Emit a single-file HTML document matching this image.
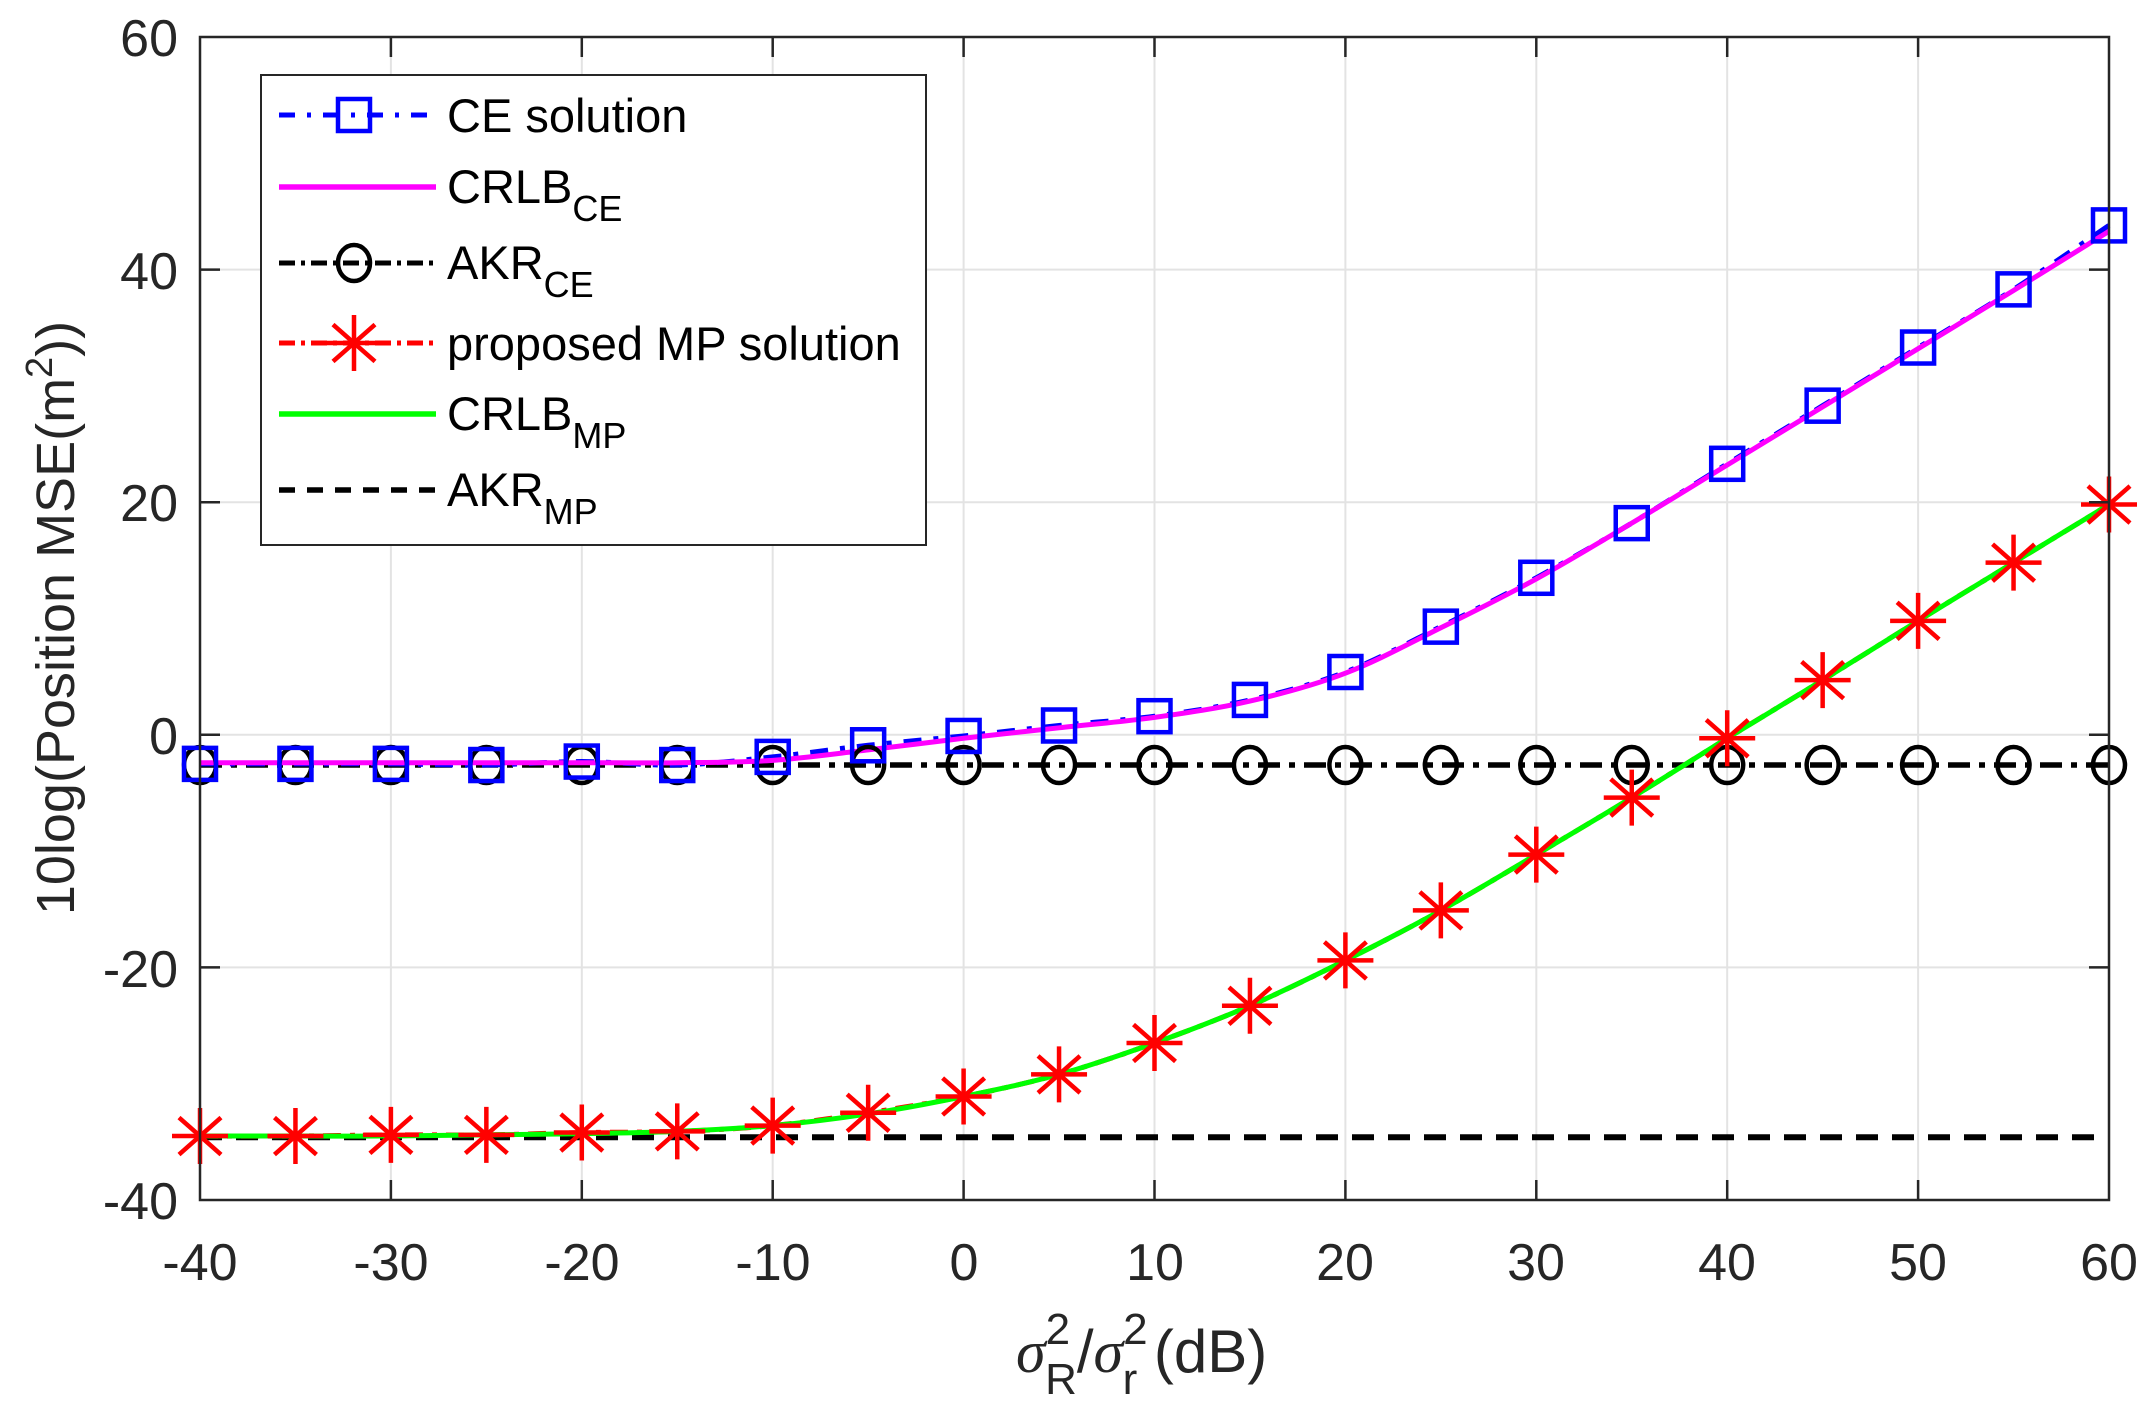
<!DOCTYPE html>
<html><head><meta charset="utf-8"><style>
html,body{margin:0;padding:0;background:#fff;}
svg text{font-family:"Liberation Sans",Arial,sans-serif;fill:#262626;}
</style></head><body>
<svg id="s" width="2152" height="1416" viewBox="0 0 2152 1416" xmlns="http://www.w3.org/2000/svg">
<rect width="2152" height="1416" fill="#fff"/>
<g id="grid" stroke="#e3e3e3" stroke-width="2"></g>
<g id="data"></g>
<rect x="200" y="37" width="1909" height="1163" fill="none" stroke="#262626" stroke-width="2.5"/>
<g id="ticks" stroke="#262626" stroke-width="2.5"></g>
<g font-size="52" text-anchor="end">
<text x="178" y="56">60</text><text x="178" y="289">40</text><text x="178" y="521">20</text>
<text x="178" y="754">0</text><text x="178" y="987">-20</text><text x="178" y="1219">-40</text>
</g>
<g font-size="52" text-anchor="middle">
<text x="200" y="1280">-40</text><text x="391" y="1280">-30</text><text x="582" y="1280">-20</text>
<text x="773" y="1280">-10</text><text x="964" y="1280">0</text><text x="1155" y="1280">10</text>
<text x="1345" y="1280">20</text><text x="1536" y="1280">30</text><text x="1727" y="1280">40</text>
<text x="1918" y="1280">50</text><text x="2109" y="1280">60</text>
</g>
<text transform="translate(74,618) rotate(-90)" font-size="54" text-anchor="middle">10log(Position MSE(m<tspan font-size="38" dy="-22">2</tspan><tspan dy="22">))</tspan></text>
<text x="1016" y="1372" font-size="60"><tspan font-family="Liberation Serif" font-style="italic">σ</tspan><tspan font-size="44" dy="-28">2</tspan><tspan font-size="44" dx="-25" dy="50">R</tspan><tspan dy="-22">/</tspan><tspan font-family="Liberation Serif" font-style="italic">σ</tspan><tspan font-size="44" dy="-28">2</tspan><tspan font-size="44" dx="-25" dy="50">r</tspan><tspan dy="-22"> (dB)</tspan></text>
<rect x="261" y="75" width="665" height="470" fill="#fff" stroke="#262626" stroke-width="2"/>
<g id="leg"></g>
<g font-size="47">
<text x="447" y="132" style="fill:#000">CE solution</text>
<text x="447" y="203" style="fill:#000">CRLB<tspan font-size="36" dy="18">CE</tspan></text>
<text x="447" y="279" style="fill:#000">AKR<tspan font-size="36" dy="18">CE</tspan></text>
<text x="447" y="360" style="fill:#000">proposed MP solution</text>
<text x="447" y="430" style="fill:#000">CRLB<tspan font-size="36" dy="18">MP</tspan></text>
<text x="447" y="506" style="fill:#000">AKR<tspan font-size="36" dy="18">MP</tspan></text>
</g>
</svg>
<script>
var NS="http://www.w3.org/2000/svg";
function X(v){return 200+(v+40)*19.09;}
function Y(v){return 37+(60-v)*11.63;}
function el(p,t,a){var e=document.createElementNS(NS,t);for(var k in a)e.setAttribute(k,a[k]);p.appendChild(e);return e;}
var G=document.getElementById('grid'),T=document.getElementById('ticks'),D=document.getElementById('data'),L=document.getElementById('leg');
for(var v=-30;v<60;v+=10){el(G,'line',{x1:X(v),x2:X(v),y1:37,y2:1200});el(T,'line',{x1:X(v),x2:X(v),y1:1200,y2:1180});el(T,'line',{x1:X(v),x2:X(v),y1:37,y2:57});}
for(var v=-20;v<60;v+=20){el(G,'line',{x1:200,x2:2109,y1:Y(v),y2:Y(v)});el(T,'line',{x1:200,x2:220,y1:Y(v),y2:Y(v)});el(T,'line',{x1:2089,x2:2109,y1:Y(v),y2:Y(v)});}
var xs=[];for(var v=-40;v<=60;v+=5)xs.push(v);
var ce=[-2.5,-2.5,-2.5,-2.6,-2.3,-2.6,-1.9,-0.9,-0.1,0.8,1.6,3,5.4,9.3,13.5,18.2,23.3,28.3,33.3,38.3,43.8];
var crce=[-2.4,-2.4,-2.4,-2.4,-2.4,-2.4,-2.2,-1.3,-0.3,0.6,1.5,2.9,5.3,9.2,13.4,18.2,23.2,28.2,33.2,38.2,43.3];
var mp=[-34.5,-34.5,-34.4,-34.4,-34.2,-34.1,-33.6,-32.5,-31.1,-29.2,-26.5,-23.3,-19.4,-15.1,-10.3,-5.4,-0.3,4.7,9.8,14.8,19.8];
var crmp=[-34.5,-34.5,-34.5,-34.4,-34.3,-34.1,-33.6,-32.6,-31.1,-29.2,-26.5,-23.3,-19.4,-15.1,-10.3,-5.4,-0.3,4.7,9.8,14.8,19.8];
function smooth(ys){var p=xs.map(function(x,i){return [X(x),Y(ys[i])];});var d='M'+p[0][0]+','+p[0][1];
for(var i=0;i<p.length-1;i++){var p0=p[i-1]||p[i],p1=p[i],p2=p[i+1],p3=p[i+2]||p2;
d+=' C'+(p1[0]+(p2[0]-p0[0])/6)+','+(p1[1]+(p2[1]-p0[1])/6)+' '+(p2[0]-(p3[0]-p1[0])/6)+','+(p2[1]-(p3[1]-p1[1])/6)+' '+p2[0]+','+p2[1];}return d;}
function sq(p,x,y,c){el(p,'rect',{x:x-16,y:y-16,width:32,height:32,fill:'none',stroke:c,'stroke-width':4.5});}
function ci(p,x,y){el(p,'ellipse',{cx:x,cy:y,rx:16,ry:18,fill:'none',stroke:'#000','stroke-width':4.5});}
function st(p,x,y){var r=28;var g=el(p,'g',{stroke:'#f00','stroke-width':4.5});
el(g,'line',{x1:x-r,x2:x+r,y1:y,y2:y});el(g,'line',{x1:x,x2:x,y1:y-r,y2:y+r});
var a=r*0.75,b=r*0.66;el(g,'line',{x1:x-a,x2:x+a,y1:y-b,y2:y+b});el(g,'line',{x1:x-a,x2:x+a,y1:y+b,y2:y-b});}
el(D,'line',{x1:200,x2:2109,y1:Y(-34.6),y2:Y(-34.6),stroke:'#000','stroke-width':6,'stroke-dasharray':'22 14'});
el(D,'line',{x1:200,x2:2109,y1:Y(-2.6),y2:Y(-2.6),stroke:'#000','stroke-width':5.5,'stroke-dasharray':'22 9 6 9'});
el(D,'path',{d:smooth(mp),fill:'none',stroke:'#f00','stroke-width':5,'stroke-dasharray':'18 9 5 9'});
el(D,'path',{d:smooth(crmp),fill:'none',stroke:'#0f0','stroke-width':5});
el(D,'path',{d:smooth(ce),fill:'none',stroke:'#00f','stroke-width':5,'stroke-dasharray':'18 12 5 12'});
el(D,'path',{d:smooth(crce),fill:'none',stroke:'#f0f','stroke-width':5});
xs.forEach(function(x,i){ci(D,X(x),Y(-2.6));sq(D,X(x),Y(ce[i]),'#00f');st(D,X(x),Y(mp[i]));});
var lx1=279,lx2=436,mx=354;
el(L,'line',{x1:lx1,x2:lx2,y1:115,y2:115,stroke:'#00f','stroke-width':5,'stroke-dasharray':'16 12 4 12'});sq(L,mx,115,'#00f');
el(L,'line',{x1:lx1,x2:lx2,y1:187,y2:187,stroke:'#f0f','stroke-width':5.5});
el(L,'line',{x1:lx1,x2:lx2,y1:263,y2:263,stroke:'#000','stroke-width':5,'stroke-dasharray':'16 6 4 6'});ci(L,mx,263);
el(L,'line',{x1:lx1,x2:lx2,y1:343,y2:343,stroke:'#f00','stroke-width':5,'stroke-dasharray':'16 6 4 6'});st(L,mx,343);
el(L,'line',{x1:lx1,x2:lx2,y1:414,y2:414,stroke:'#0f0','stroke-width':5.5});
el(L,'line',{x1:lx1,x2:lx2,y1:490,y2:490,stroke:'#000','stroke-width':5.5,'stroke-dasharray':'16 12'});
</script>
</body></html>
